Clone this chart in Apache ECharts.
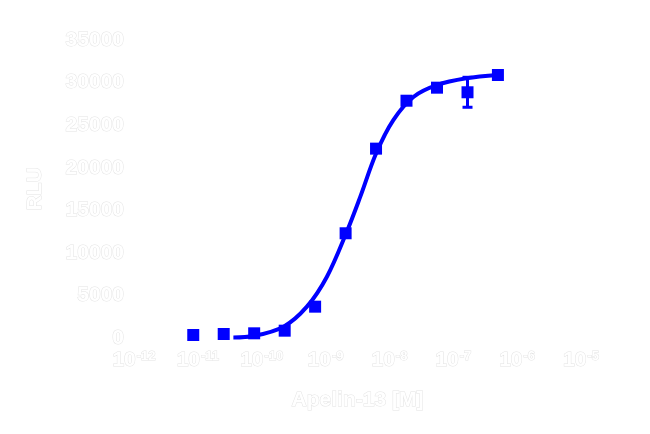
<!DOCTYPE html>
<html>
<head>
<meta charset="utf-8">
<script src="https://cdn.jsdelivr.net/npm/echarts@6/dist/echarts.min.js"></script>
<style>
  html, body { margin: 0; padding: 0; background: #ffffff; }
  #chart { width: 650px; height: 434px; }
</style>
</head>
<body>
<div id="chart"></div>
<script>
// Concentraciones (M) de la serie de diluciones 1:3
const concentrations = [8.47e-12, 2.54e-11, 7.62e-11, 2.29e-10, 6.86e-10, 2.06e-9, 6.17e-9, 1.85e-8, 5.56e-8, 1.67e-7, 5e-7];
const rluMean = [350, 470, 550, 860, 3680, 12300, 22240, 27870, 29400, 28860, 30890];
const rluErr = [0, 0, 0, 0, 0, 0, 0, 0, 0, 1760, 0];

// Curva ajustada
const fitConc = [3.6e-11, 7.4e-11, 2.2e-10, 5.1e-10, 1.05e-9, 2.1e-9, 3.5e-9, 6.2e-9, 1.15e-8, 2.4e-8, 5.5e-8, 1.6e-7, 5e-7];
const fitRlu = [60, 230, 1330, 3680, 7200, 12300, 16600, 21700, 25600, 28340, 29700, 30500, 30890];

const xTitle = 'Apelin-13 [M]';
const yTitle = 'RLU';

const blue = '#0000ff';
// Texto casi invisible: blanco con un contorno gris muy claro
const ghost = {
    color: '#ffffff',
    textBorderColor: '#e4e4e4',
    textBorderWidth: 1,
    fontFamily: 'Liberation Sans',
    fontWeight: 'bold'
};

const chart = echarts.init(document.getElementById('chart'), null, { renderer: 'canvas' });

const points = concentrations.map((c, i) => [c, rluMean[i]]);
const errors = concentrations.map((c, i) => [c, rluMean[i] - rluErr[i], rluMean[i] + rluErr[i]])
    .filter((d, i) => rluErr[i] > 0);

const option = {
    backgroundColor: '#ffffff',
    animation: false,
    grid: { left: 134, right: 69, top: 40, bottom: 96 },
    xAxis: {
        type: 'log',
        logBase: 10,
        min: 1e-12,
        max: 1e-5,
        name: xTitle,
        nameLocation: 'middle',
        nameGap: 52,
        nameTextStyle: Object.assign({ fontSize: 21 }, ghost),
        axisLine: { show: false },
        axisTick: { show: false },
        splitLine: { show: false },
        axisLabel: {
            margin: 12,
            formatter: function (v) {
                const e = Math.round(Math.log10(v));
                return '{b|10}{s|' + e + '}';
            },
            rich: {
                b: Object.assign({ fontSize: 21 }, ghost),
                s: Object.assign({ fontSize: 13, verticalAlign: 'top', padding: [0, 0, 8, 1] }, ghost)
            }
        }
    },
    yAxis: {
        type: 'value',
        min: 0,
        max: 35000,
        interval: 5000,
        name: yTitle,
        nameLocation: 'middle',
        nameRotate: 90,
        nameGap: 88,
        nameTextStyle: Object.assign({ fontSize: 21 }, ghost),
        axisLine: { show: false },
        axisTick: { show: false },
        splitLine: { show: false },
        axisLabel: Object.assign({ fontSize: 21, margin: 10, formatter: v => String(v) }, ghost)
    },
    series: [
        {
            name: 'fit',
            type: 'line',
            data: fitConc.map((c, i) => [c, fitRlu[i]]),
            smooth: 0.35,
            showSymbol: false,
            lineStyle: { color: blue, width: 4 },
            z: 2
        },
        {
            name: 'error',
            type: 'custom',
            data: errors,
            renderItem: function (params, api) {
                const x = api.value(0);
                const lo = api.coord([x, api.value(1)]);
                const hi = api.coord([x, api.value(2)]);
                const cap = 5;
                const style = { stroke: blue, lineWidth: 3 };
                return {
                    type: 'group',
                    children: [
                        { type: 'line', shape: { x1: lo[0], y1: lo[1], x2: hi[0], y2: hi[1] }, style: style },
                        { type: 'line', shape: { x1: lo[0] - cap, y1: lo[1], x2: lo[0] + cap, y2: lo[1] }, style: style },
                        { type: 'line', shape: { x1: hi[0] - cap, y1: hi[1], x2: hi[0] + cap, y2: hi[1] }, style: style }
                    ]
                };
            },
            z: 3
        },
        {
            name: 'RLU',
            type: 'scatter',
            data: points,
            symbol: 'rect',
            symbolSize: 12,
            itemStyle: { color: blue, opacity: 1 },
            z: 4
        }
    ]
};

chart.setOption(option);
</script>
</body>
</html>
